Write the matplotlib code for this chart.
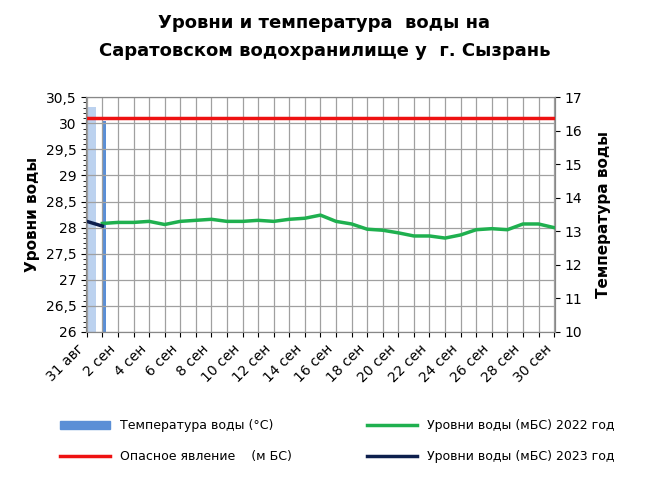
import matplotlib
matplotlib.use("Agg")
import matplotlib.pyplot as plt
from matplotlib.ticker import MultipleLocator

days = ["31 авг"] + [f"{d} сен" for d in range(1, 31)]
level_2022 = [None, 28.08, 28.1, 28.1, 28.12, 28.06, 28.12, 28.14, 28.16, 28.12, 28.12,
              28.14, 28.12, 28.16, 28.18, 28.24, 28.12, 28.07, 27.97, 27.95, 27.9,
              27.84, 27.84, 27.8, 27.86, 27.96, 27.98, 27.96, 28.07, 28.07, 28.0]
level_2023 = [28.12, 28.03]
danger = 30.1
temp = [16.7, 16.3]

x = list(range(len(days)))
fig = plt.figure(figsize=(6.49, 4.79), dpi=100)
ax = fig.add_axes([0.1325, 0.307, 0.7225, 0.49])
ax2 = ax.twinx()

ax2.bar([0], [temp[0] - 10], bottom=10, width=0.6, align="edge", color="#b5cdee", alpha=0.9)
ax2.bar([1.1], [temp[1] - 10], bottom=10, width=0.25, color="#5b8fd6")
ax2.set_ylim(10, 17)
ax2.set_ylabel("Температура воды", fontsize=11, fontweight="bold", labelpad=10)
ax2.tick_params(labelsize=10)

ax.set_zorder(ax2.get_zorder() + 1)
ax.patch.set_visible(False)
ax2.set_facecolor("#f0f0f0")

xs = [i for i, v in enumerate(level_2022) if v is not None]
ax.plot(xs, [level_2022[i] for i in xs], color="#1fb04f", lw=2.5)
ax.plot(x[:2], level_2023, color="#0d1f4d", lw=2.5)
ax.plot([0, 30], [danger, danger], color="#ee1111", lw=2.5)

ax.set_xlim(-0.05, 30.05)
ax.set_ylim(26, 30.5)
ax.yaxis.set_major_locator(MultipleLocator(0.5))
ax.yaxis.set_minor_locator(MultipleLocator(0.1))
ax.yaxis.set_major_formatter(matplotlib.ticker.FuncFormatter(lambda v, p: f"{v:g}".replace(".", ",")))
ax.set_xticks(x)
ax.set_xticklabels([d if i % 2 == 0 else "" for i, d in enumerate(days)], rotation=45, ha="right", fontsize=10)
ax.grid(True, color="#a0a0a0", lw=0.9)
ax.set_axisbelow(True)
ax.tick_params(labelsize=10)
ax.set_ylabel("Уровни воды", fontsize=11, fontweight="bold")
for a in (ax, ax2):
    for s in a.spines.values():
        s.set_color("#888888")

fig.suptitle("Уровни и температура  воды на\nСаратовском водохранилище у  г. Сызрань",
             fontsize=13, fontweight="bold", y=0.97, linespacing=1.7)

h = [plt.Rectangle((0, 0), 1, 1, color="#5b8fd6"),
     plt.Line2D([], [], color="#ee1111", lw=2.5),
     plt.Line2D([], [], color="#1fb04f", lw=2.5),
     plt.Line2D([], [], color="#0d1f4d", lw=2.5)]
l = ["Температура воды (°С)", "Опасное явление    (м БС)",
     "Уровни воды (мБС) 2022 год", "Уровни воды (мБС) 2023 год"]
fig.legend(h, l, ncol=2, loc="lower center", bbox_to_anchor=(0.52, 0.01), frameon=False,
           fontsize=9, columnspacing=6, handlelength=4, labelspacing=1.4)

fig.savefig("out.png")
